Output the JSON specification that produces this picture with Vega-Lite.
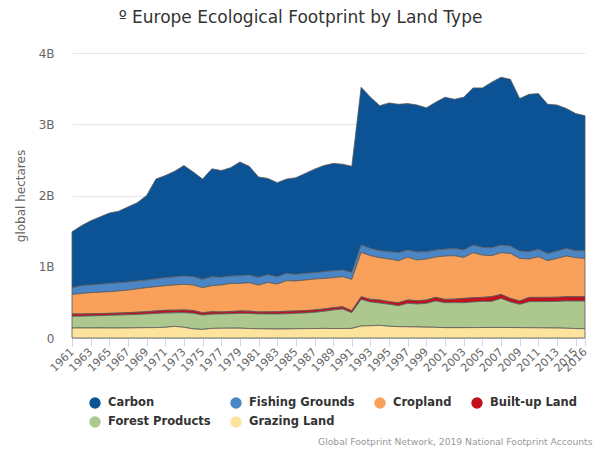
{
  "$schema": "https://vega.github.io/schema/vega-lite/v6.json",
  "width": 513,
  "height": 285,
  "autosize": {"type": "none"},
  "padding": {"left": 72, "top": 53, "right": 15, "bottom": 112},
  "background": "#ffffff",
  "config": {
    "view": {"stroke": null},
    "font": "DejaVu Sans"
  },
  "title": {
    "text": "º Europe Ecological Footprint by Land Type",
    "anchor": "middle",
    "frame": "group",
    "dx": -28,
    "fontSize": 17,
    "fontWeight": "normal",
    "color": "#333333",
    "font": "DejaVu Sans",
    "offset": 20
  },
  "data": {
    "values": [
      {"year": 1961, "Carbon": 785000000, "Fishing Grounds": 93000000, "Cropland": 275000000, "Built-up Land": 33000000, "Forest Products": 164000000, "Grazing Land": 140000000},
      {"year": 1962, "Carbon": 840000000, "Fishing Grounds": 110000000, "Cropland": 287000000, "Built-up Land": 32000000, "Forest Products": 165000000, "Grazing Land": 141000000},
      {"year": 1963, "Carbon": 900000000, "Fishing Grounds": 109000000, "Cropland": 296000000, "Built-up Land": 30000000, "Forest Products": 169000000, "Grazing Land": 141000000},
      {"year": 1964, "Carbon": 945000000, "Fishing Grounds": 112000000, "Cropland": 300000000, "Built-up Land": 29000000, "Forest Products": 173000000, "Grazing Land": 141000000},
      {"year": 1965, "Carbon": 987000000, "Fishing Grounds": 116000000, "Cropland": 304000000, "Built-up Land": 28000000, "Forest Products": 178000000, "Grazing Land": 140000000},
      {"year": 1966, "Carbon": 1005000000, "Fishing Grounds": 115000000, "Cropland": 310000000, "Built-up Land": 28000000, "Forest Products": 182000000, "Grazing Land": 140000000},
      {"year": 1967, "Carbon": 1055000000, "Fishing Grounds": 112000000, "Cropland": 317000000, "Built-up Land": 30000000, "Forest Products": 185000000, "Grazing Land": 141000000},
      {"year": 1968, "Carbon": 1100000000, "Fishing Grounds": 110000000, "Cropland": 328000000, "Built-up Land": 31000000, "Forest Products": 188000000, "Grazing Land": 143000000},
      {"year": 1969, "Carbon": 1187000000, "Fishing Grounds": 107000000, "Cropland": 337000000, "Built-up Land": 32000000, "Forest Products": 192000000, "Grazing Land": 145000000},
      {"year": 1970, "Carbon": 1400000000, "Fishing Grounds": 110000000, "Cropland": 340000000, "Built-up Land": 35000000, "Forest Products": 199000000, "Grazing Land": 146000000},
      {"year": 1971, "Carbon": 1434000000, "Fishing Grounds": 112000000, "Cropland": 346000000, "Built-up Land": 37000000, "Forest Products": 201000000, "Grazing Land": 150000000},
      {"year": 1972, "Carbon": 1482000000, "Fishing Grounds": 113000000, "Cropland": 354000000, "Built-up Land": 38000000, "Forest Products": 189000000, "Grazing Land": 164000000},
      {"year": 1973, "Carbon": 1551000000, "Fishing Grounds": 116000000, "Cropland": 360000000, "Built-up Land": 38000000, "Forest Products": 205000000, "Grazing Land": 150000000},
      {"year": 1974, "Carbon": 1470000000, "Fishing Grounds": 117000000, "Cropland": 358000000, "Built-up Land": 37000000, "Forest Products": 220000000, "Grazing Land": 128000000},
      {"year": 1975, "Carbon": 1407000000, "Fishing Grounds": 117000000, "Cropland": 351000000, "Built-up Land": 33000000, "Forest Products": 201000000, "Grazing Land": 121000000},
      {"year": 1976, "Carbon": 1515000000, "Fishing Grounds": 126000000, "Cropland": 365000000, "Built-up Land": 34000000, "Forest Products": 200000000, "Grazing Land": 135000000},
      {"year": 1977, "Carbon": 1499000000, "Fishing Grounds": 108000000, "Cropland": 378000000, "Built-up Land": 28000000, "Forest Products": 200000000, "Grazing Land": 137000000},
      {"year": 1978, "Carbon": 1521000000, "Fishing Grounds": 103000000, "Cropland": 394000000, "Built-up Land": 31000000, "Forest Products": 203000000, "Grazing Land": 138000000},
      {"year": 1979, "Carbon": 1596000000, "Fishing Grounds": 108000000, "Cropland": 387000000, "Built-up Land": 33000000, "Forest Products": 208000000, "Grazing Land": 138000000},
      {"year": 1980, "Carbon": 1527000000, "Fishing Grounds": 107000000, "Cropland": 399000000, "Built-up Land": 33000000, "Forest Products": 211000000, "Grazing Land": 133000000},
      {"year": 1981, "Carbon": 1409000000, "Fishing Grounds": 108000000, "Cropland": 378000000, "Built-up Land": 27000000, "Forest Products": 208000000, "Grazing Land": 130000000},
      {"year": 1982, "Carbon": 1352000000, "Fishing Grounds": 108000000, "Cropland": 413000000, "Built-up Land": 30000000, "Forest Products": 209000000, "Grazing Land": 128000000},
      {"year": 1983, "Carbon": 1320000000, "Fishing Grounds": 103000000, "Cropland": 388000000, "Built-up Land": 32000000, "Forest Products": 211000000, "Grazing Land": 126000000},
      {"year": 1984, "Carbon": 1323000000, "Fishing Grounds": 103000000, "Cropland": 429000000, "Built-up Land": 35000000, "Forest Products": 213000000, "Grazing Land": 127000000},
      {"year": 1985, "Carbon": 1357000000, "Fishing Grounds": 93000000, "Cropland": 421000000, "Built-up Land": 33000000, "Forest Products": 216000000, "Grazing Land": 130000000},
      {"year": 1986, "Carbon": 1403000000, "Fishing Grounds": 94000000, "Cropland": 428000000, "Built-up Land": 33000000, "Forest Products": 220000000, "Grazing Land": 132000000},
      {"year": 1987, "Carbon": 1454000000, "Fishing Grounds": 89000000, "Cropland": 434000000, "Built-up Land": 33000000, "Forest Products": 227000000, "Grazing Land": 133000000},
      {"year": 1988, "Carbon": 1490000000, "Fishing Grounds": 94000000, "Cropland": 429000000, "Built-up Land": 33000000, "Forest Products": 239000000, "Grazing Land": 135000000},
      {"year": 1989, "Carbon": 1506000000, "Fishing Grounds": 98000000, "Cropland": 421000000, "Built-up Land": 32000000, "Forest Products": 260000000, "Grazing Land": 133000000},
      {"year": 1990, "Carbon": 1487000000, "Fishing Grounds": 93000000, "Cropland": 421000000, "Built-up Land": 32000000, "Forest Products": 274000000, "Grazing Land": 133000000},
      {"year": 1991, "Carbon": 1489000000, "Fishing Grounds": 98000000, "Cropland": 440000000, "Built-up Land": 28000000, "Forest Products": 220000000, "Grazing Land": 135000000},
      {"year": 1992, "Carbon": 2216000000, "Fishing Grounds": 103000000, "Cropland": 621000000, "Built-up Land": 38000000, "Forest Products": 374000000, "Grazing Land": 168000000},
      {"year": 1993, "Carbon": 2123000000, "Fishing Grounds": 102000000, "Cropland": 613000000, "Built-up Land": 37000000, "Forest Products": 333000000, "Grazing Land": 172000000},
      {"year": 1994, "Carbon": 2035000000, "Fishing Grounds": 98000000, "Cropland": 594000000, "Built-up Land": 42000000, "Forest Products": 313000000, "Grazing Land": 178000000},
      {"year": 1995, "Carbon": 2089000000, "Fishing Grounds": 103000000, "Cropland": 599000000, "Built-up Land": 37000000, "Forest Products": 307000000, "Grazing Land": 165000000},
      {"year": 1996, "Carbon": 2083000000, "Fishing Grounds": 112000000, "Cropland": 590000000, "Built-up Land": 42000000, "Forest Products": 294000000, "Grazing Land": 159000000},
      {"year": 1997, "Carbon": 2056000000, "Fishing Grounds": 102000000, "Cropland": 599000000, "Built-up Land": 47000000, "Forest Products": 329000000, "Grazing Land": 157000000},
      {"year": 1998, "Carbon": 2064000000, "Fishing Grounds": 112000000, "Cropland": 571000000, "Built-up Land": 46000000, "Forest Products": 322000000, "Grazing Land": 155000000},
      {"year": 1999, "Carbon": 2019000000, "Fishing Grounds": 103000000, "Cropland": 575000000, "Built-up Land": 47000000, "Forest Products": 334000000, "Grazing Land": 152000000},
      {"year": 2000, "Carbon": 2076000000, "Fishing Grounds": 98000000, "Cropland": 566000000, "Built-up Land": 51000000, "Forest Products": 369000000, "Grazing Land": 150000000},
      {"year": 2001, "Carbon": 2132000000, "Fishing Grounds": 98000000, "Cropland": 608000000, "Built-up Land": 47000000, "Forest Products": 350000000, "Grazing Land": 145000000},
      {"year": 2002, "Carbon": 2093000000, "Fishing Grounds": 102000000, "Cropland": 610000000, "Built-up Land": 48000000, "Forest Products": 352000000, "Grazing Land": 145000000},
      {"year": 2003, "Carbon": 2145000000, "Fishing Grounds": 105000000, "Cropland": 574000000, "Built-up Land": 61000000, "Forest Products": 350000000, "Grazing Land": 145000000},
      {"year": 2004, "Carbon": 2206000000, "Fishing Grounds": 107000000, "Cropland": 632000000, "Built-up Land": 60000000, "Forest Products": 359000000, "Grazing Land": 146000000},
      {"year": 2005, "Carbon": 2239000000, "Fishing Grounds": 107000000, "Cropland": 594000000, "Built-up Land": 56000000, "Forest Products": 367000000, "Grazing Land": 147000000},
      {"year": 2006, "Carbon": 2323000000, "Fishing Grounds": 112000000, "Cropland": 575000000, "Built-up Land": 66000000, "Forest Products": 366000000, "Grazing Land": 148000000},
      {"year": 2007, "Carbon": 2356000000, "Fishing Grounds": 107000000, "Cropland": 585000000, "Built-up Land": 56000000, "Forest Products": 408000000, "Grazing Land": 148000000},
      {"year": 2008, "Carbon": 2340000000, "Fishing Grounds": 103000000, "Cropland": 631000000, "Built-up Land": 51000000, "Forest Products": 358000000, "Grazing Land": 147000000},
      {"year": 2009, "Carbon": 2140000000, "Fishing Grounds": 103000000, "Cropland": 598000000, "Built-up Land": 47000000, "Forest Products": 327000000, "Grazing Land": 145000000},
      {"year": 2010, "Carbon": 2209000000, "Fishing Grounds": 103000000, "Cropland": 538000000, "Built-up Land": 61000000, "Forest Products": 365000000, "Grazing Land": 144000000},
      {"year": 2011, "Carbon": 2186000000, "Fishing Grounds": 104000000, "Cropland": 570000000, "Built-up Land": 58000000, "Forest Products": 369000000, "Grazing Land": 143000000},
      {"year": 2012, "Carbon": 2093000000, "Fishing Grounds": 102000000, "Cropland": 515000000, "Built-up Land": 58000000, "Forest Products": 371000000, "Grazing Land": 141000000},
      {"year": 2013, "Carbon": 2050000000, "Fishing Grounds": 103000000, "Cropland": 545000000, "Built-up Land": 58000000, "Forest Products": 374000000, "Grazing Land": 140000000},
      {"year": 2014, "Carbon": 1963000000, "Fishing Grounds": 107000000, "Cropland": 570000000, "Built-up Land": 61000000, "Forest Products": 382000000, "Grazing Land": 137000000},
      {"year": 2015, "Carbon": 1925000000, "Fishing Grounds": 98000000, "Cropland": 547000000, "Built-up Land": 61000000, "Forest Products": 386000000, "Grazing Land": 133000000},
      {"year": 2016, "Carbon": 1895000000, "Fishing Grounds": 108000000, "Cropland": 537000000, "Built-up Land": 61000000, "Forest Products": 388000000, "Grazing Land": 131000000}
    ]
  },
  "transform": [
    {"fold": ["Carbon", "Fishing Grounds", "Cropland", "Built-up Land", "Forest Products", "Grazing Land"], "as": ["landType", "gha"]},
    {
      "lookup": "landType",
      "from": {
        "data": {
          "values": [
            {"landType": "Grazing Land", "stackRank": 1},
            {"landType": "Forest Products", "stackRank": 2},
            {"landType": "Built-up Land", "stackRank": 3},
            {"landType": "Cropland", "stackRank": 4},
            {"landType": "Fishing Grounds", "stackRank": 5},
            {"landType": "Carbon", "stackRank": 6}
          ]
        },
        "key": "landType",
        "fields": ["stackRank"]
      }
    }
  ],
  "mark": {
    "type": "area",
    "interpolate": "linear",
    "opacity": 1,
    "stroke": "#5a5a5a",
    "strokeWidth": 1,
    "strokeOpacity": 0.8
  },
  "encoding": {
    "x": {
      "field": "year",
      "type": "quantitative",
      "scale": {"domain": [1961, 2016], "nice": false, "zero": false},
      "axis": {
        "title": "Global Footprint Network, 2019 National Footprint Accounts",
        "titleFontSize": 9.2,
        "titleFontWeight": "normal",
        "titleColor": "#999999",
        "titleAnchor": "end",
        "titleAlign": "right",
        "titleBaseline": "middle",
        "titleX": 520,
        "titleY": 103,
        "values": [1961, 1963, 1965, 1967, 1969, 1971, 1973, 1975, 1977, 1979, 1981, 1983, 1985, 1987, 1989, 1991, 1993, 1995, 1997, 1999, 2001, 2003, 2005, 2007, 2009, 2011, 2013, 2015, 2016],
        "format": "d",
        "labelAngle": -45,
        "labelAlign": "right",
        "labelBaseline": "middle",
        "labelFontSize": 11,
        "labelColor": "#666666",
        "labelPadding": 4,
        "labelOverlap": false,
        "labelFlush": false,
        "grid": false,
        "domainColor": "#ccd6eb",
        "tickColor": "#ccd6eb",
        "tickSize": 8
      }
    },
    "y": {
      "field": "gha",
      "type": "quantitative",
      "stack": "zero",
      "scale": {"domain": [0, 4000000000], "nice": false},
      "axis": {
        "title": "global hectares",
        "titleFontSize": 12,
        "titleFontWeight": "normal",
        "titleColor": "#666666",
        "titlePadding": 11,
        "values": [0, 1000000000, 2000000000, 3000000000, 4000000000],
        "labelExpr": "datum.value == 0 ? '0' : format(datum.value / 1e9, 'd') + 'B'",
        "labelFontSize": 12,
        "labelColor": "#666666",
        "labelPadding": 18,
        "domain": false,
        "ticks": false,
        "gridColor": "#e6e6e6",
        "gridWidth": 1
      }
    },
    "color": {
      "field": "landType",
      "type": "nominal",
      "scale": {
        "domain": ["Carbon", "Fishing Grounds", "Cropland", "Built-up Land", "Forest Products", "Grazing Land"],
        "range": ["#0b5394", "#4a86c6", "#f9a15b", "#c3101c", "#adc88e", "#fde39c"]
      },
      "legend": {
        "title": null,
        "orient": "none",
        "legendX": 17,
        "legendY": 344,
        "direction": "horizontal",
        "columns": 4,
        "gridAlign": "none",
        "symbolType": "circle",
        "symbolSize": 130,
        "symbolStrokeWidth": 0,
        "symbolOpacity": 1,
        "labelFont": "DejaVu Sans",
        "labelFontSize": 11.5,
        "labelFontWeight": "bold",
        "labelColor": "#333333",
        "labelOffset": 7,
        "columnPadding": 19,
        "rowPadding": 7
      }
    },
    "order": {"field": "stackRank", "type": "quantitative", "sort": "ascending"}
  }
}
